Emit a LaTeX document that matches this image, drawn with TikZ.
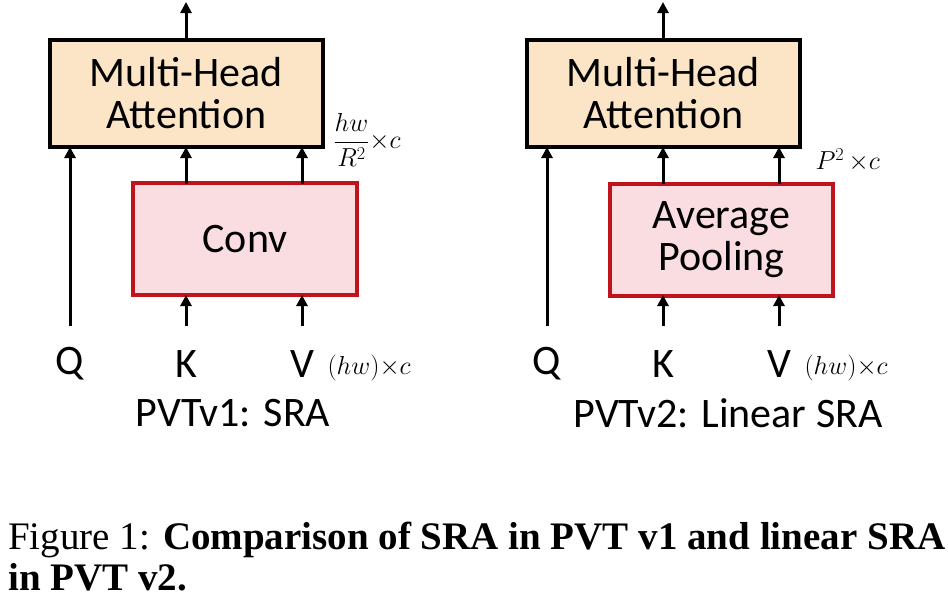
\documentclass[tikz,border=0pt]{standalone}
\usepackage{fix-cm}
\usepackage{amsmath}
\usepackage{fontspec}
\setmainfont{Carlito}
\newfontfamily\capfont{Liberation Serif}
\usetikzlibrary{arrows.meta}
\definecolor{mha}{HTML}{FCE4C6}
\definecolor{cv}{HTML}{F9DDE0}
\definecolor{cvb}{HTML}{C0141C}
\begin{document}
\begin{tikzpicture}[x=1pt,y=-1pt,
 ar/.style={line width=3pt,-{Triangle[length=11pt,width=11pt]}},
 mh/.style={draw=black,line width=3.5pt,fill=mha,align=center,font=\fontsize{42}{42}\selectfont},
 cb/.style={draw=cvb,line width=3.5pt,fill=cv,align=center,font=\fontsize{42}{42}\selectfont},
 lb/.style={font=\fontsize{42}{46}\selectfont},
 mt/.style={font=\fontsize{26}{30}\selectfont}]
\useasboundingbox (0,0) rectangle (948,605);
\foreach \o/\n in {0/a,477/b}{
 \begin{scope}[xshift=\o pt]
 \coordinate (\n top) at (186,2);
 \coordinate (\n q0) at (70,326); \coordinate (\n k0) at (186,326); \coordinate (\n v0) at (302,326);
 \coordinate (\n q1) at (70,147); \coordinate (\n k1) at (186,147); \coordinate (\n v1) at (302,147);
 \coordinate (\n k2) at (186,295); \coordinate (\n k3) at (186,184);
 \coordinate (\n v2) at (302,295); \coordinate (\n v3) at (302,184);
 \node[lb] (\n Q) at (70,364) {Q};
 \node[lb] (\n K) at (186,364) {K};
 \node[lb] (\n V) at (302,364) {V};
 \node[mt,anchor=west] (\n dim) at (324,368) {$(hw){\times}c$};
 \end{scope}}
\node[mh,minimum width=273pt,minimum height=107pt] (m1) at (186.5,93.5) {Multi-Head\\Attention};
\node[cb,minimum width=224pt,minimum height=112pt] (c1) at (245,239) {Conv};
\node[mh,minimum width=273pt,minimum height=107pt] (m2) at (663.5,93.5) {Multi-Head\\Attention};
\node[cb,minimum width=223pt,minimum height=112pt] (c2) at (721.5,240) {Average\\Pooling};
\foreach \n in {a,b}{
 \draw[ar] (\n q0)--(\n q1);
 \draw[ar] (\n k0)--(\n k2); \draw[ar] (\n k3)--(\n k1);
 \draw[ar] (\n v0)--(\n v2); \draw[ar] (\n v3)--(\n v1);
 \draw[ar] (\n k1|-0,40)--(\n top);}
\node[mt,anchor=west] (r1) at (330,140) {$\dfrac{hw}{R^2}{\times}c$};
\node[mt,anchor=west] (r2) at (812,160) {$P^2\,{\times}c$};
\node[lb] (t1) at (233,413) {PVTv1: SRA};
\node[lb] (t2) at (728,413) {PVTv2: Linear SRA};
\node[anchor=west,font=\capfont\fontsize{39}{41}\selectfont,align=left,inner sep=0pt] (cap) at (8,557) {Figure 1: \textbf{Comparison of SRA in PVT v1 and linear SRA}\\\textbf{in PVT v2.}};
\end{tikzpicture}
\end{document}
